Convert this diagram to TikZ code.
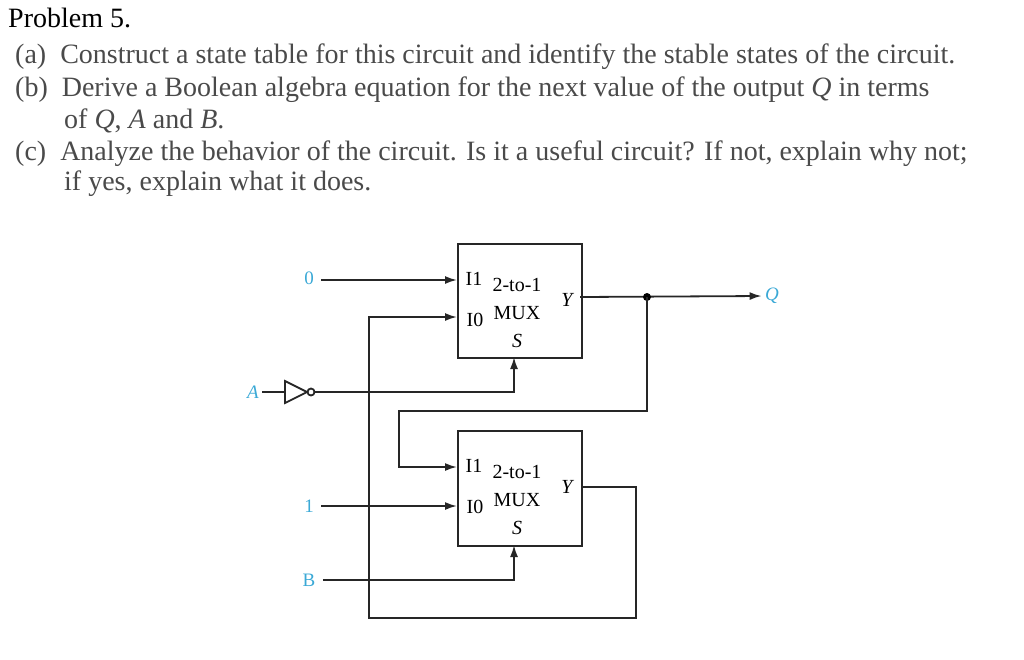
\documentclass[tikz,border=0pt]{standalone}
\usepackage{fontspec}
\setmainfont{Liberation Serif}
\usetikzlibrary{arrows.meta}
\definecolor{lab}{HTML}{3BA9D6}
\definecolor{txt}{HTML}{4A4A4A}
\begin{document}
\begin{tikzpicture}[x=1pt,y=-1pt,
  w/.style={line width=1.8pt,draw=black!85},
  a/.style={w,-{Latex[length=12pt,width=8pt]}},
  box/.style={w,draw,minimum width=124pt,anchor=north west,inner sep=0pt},
  inlab/.style={font=\fontsize{19}{19}\selectfont,text=lab},
  mx/.style={font=\fontsize{20}{20}\selectfont},
  hd/.style={anchor=west,font=\fontsize{28}{28}\selectfont,text=txt,inner sep=0pt}]
\useasboundingbox (0,0) rectangle (1024,659);
% text
\node[hd,text=black] (t0) at (8,18) {Problem 5.};
\node[hd] (t1) at (15,57) {(a)\ \ Construct a state table for this circuit and identify the stable states of the circuit.};
\node[hd] (t2) at (15,90) {(b)\ \ Derive a Boolean algebra equation for the next value of the output \textit{Q} in terms};
\node[hd] (t3) at (64,121) {of \textit{Q}, \textit{A} and \textit{B}.};
\node[hd] (t4) at (15,154) {(c)\ \ Analyze the behavior of the circuit. Is it a useful circuit? If not, explain why not;};
\node[hd] (t5) at (64,184) {if yes, explain what it does.};
% boxes
\node[box,minimum height=114pt] (m1) at (457,243) {};
\node[box,minimum height=115pt] (m2) at (457,430) {};
\foreach \m/\dy in {m1/0,m2/187}{
  \node[mx] at (474,{279+\dy}) {I1};
  \node[mx] at (517,{285+\dy}) {2-to-1};
  \node[mx] at (475,{320+\dy}) {I0};
  \node[mx] at (517,{313+\dy}) {MUX};
  \node[mx,font=\fontsize{20}{20}\selectfont\itshape] at (517,{341+\dy}) {S};
  \node[mx,font=\fontsize{20}{20}\selectfont\itshape] at (567,{300+\dy}) {Y};
}
% inputs
\node[inlab] (z) at (309,278) {0};
\node[inlab] (o) at (309,506) {1};
\node[inlab] (b) at (309,580) {B};
\node[inlab,font=\fontsize{19}{19}\selectfont\itshape] (aa) at (253,392) {A};
\node[inlab,font=\fontsize{19}{19}\selectfont\itshape] (q) at (772,296) {Q};
\coordinate (i11) at (457,280);
\coordinate (i01) at (457,317);
\coordinate (s1) at (514,357);
\coordinate (y1) at (580,297);
\coordinate (i12) at (457,467);
\coordinate (i02) at (457,506);
\coordinate (s2) at (514,545);
\coordinate (y2) at (582,487);
\coordinate (dot) at (647,297);
\draw[a] (z.east) ++(4,2) -- (i11);
\draw[a] (o.east) ++(4,0) -- (i02);
\draw[a] (b.east) ++(4,0) -| (s2);
\draw[a] (y1) -- (q.west);
\fill (dot) circle (4pt);
\draw[a] (dot) -- (647,411) -- (399,411) |- (i12);
\draw[a] (y2) -- (636,487) -- (636,618) -- (369,618) |- (i01);
% inverter
\draw[w] (aa.east) -- (285,392);
\draw[w] (285,381) -- (285,403) -- (307,392) -- cycle;
\draw[w] (311,392) circle (3.5pt);
\draw[a] (315,392) -| (s1);
\end{tikzpicture}
\end{document}
